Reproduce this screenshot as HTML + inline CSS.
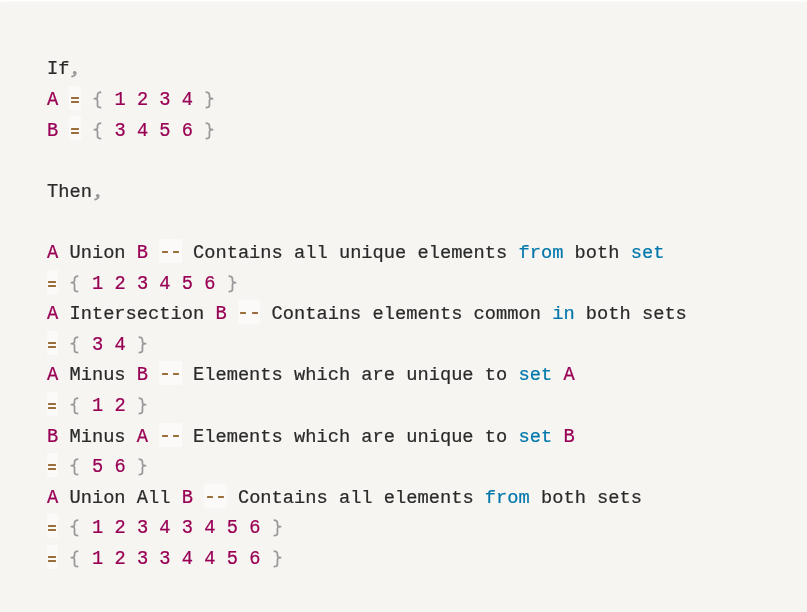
<!DOCTYPE html>
<html><head><meta charset="utf-8"><style>
html,body{margin:0;padding:0;}
body{width:807px;height:612px;background:#fff;overflow:hidden;position:relative;}
.blk{position:absolute;left:0;top:0;width:820px;height:620px;background:#f6f5f2;border-top-left-radius:3.0px;transform:translateY(1.5px);}
.ob{position:absolute;background:rgba(255,255,255,.5);}
.cm{position:absolute;}
.bar{position:absolute;background:#9a6e3a;border-radius:0.6px;}
.ln{position:absolute;left:46.9px;height:30px;line-height:30px;font-family:"Liberation Mono",monospace;font-size:18.72px;color:#2a2a2a;white-space:pre;will-change:transform;-webkit-text-stroke:0.22px;}
.u{display:inline-block;transform:scaleY(1.065);transform-origin:0 20px;}
.n{color:#905;}
.o{color:#9a6e3a;}
.oh{color:transparent;}
.p{color:#999;}
.k{color:#07a;}
</style></head><body>
<div class="blk"></div>
<svg class="cm" style="left:69.36px;top:68px" width="12" height="12" viewBox="0 -6 12 12"><circle cx="5.6" cy="-1.3" r="1.75" fill="#999"/><path d="M6.5,-1.2 C6.9,0.8 5.4,2.0 3.1,2.5" fill="none" stroke="#999" stroke-width="1.9" stroke-linecap="round"/></svg>
<div class="ob" style="left:69px;top:86px;width:12px;height:24px"></div>
<div class="bar" style="left:71px;top:97px;width:8px;height:2px"></div>
<div class="bar" style="left:71px;top:101px;width:8px;height:2px"></div>
<svg class="cm" style="left:91.82px;top:89px" width="12" height="22" viewBox="0 -16 12 22"><path d="M9.3,-13 C6.7,-13 5.5,-12 5.5,-10 L5.5,-8.2 C5.5,-7 4.7,-6.3 2.35,-6.3 C4.7,-6.3 5.5,-5.6 5.5,-4.4 L5.5,0.5 C5.5,2 6.7,2.6 9.3,2.6" fill="none" stroke="#999" stroke-width="1.75" stroke-linejoin="round"/></svg>
<svg class="cm" style="left:204.12px;top:89px" width="12" height="22" viewBox="0 -16 12 22"><path transform="translate(10.95,0) scale(-1,1)" d="M9.3,-13 C6.7,-13 5.5,-12 5.5,-10 L5.5,-8.2 C5.5,-7 4.7,-6.3 2.35,-6.3 C4.7,-6.3 5.5,-5.6 5.5,-4.4 L5.5,0.5 C5.5,2 6.7,2.6 9.3,2.6" fill="none" stroke="#999" stroke-width="1.75" stroke-linejoin="round"/></svg>
<div class="ob" style="left:69px;top:116px;width:12px;height:24px"></div>
<div class="bar" style="left:71px;top:128px;width:8px;height:2px"></div>
<div class="bar" style="left:71px;top:132px;width:8px;height:2px"></div>
<svg class="cm" style="left:91.82px;top:120px" width="12" height="22" viewBox="0 -16 12 22"><path d="M9.3,-13 C6.7,-13 5.5,-12 5.5,-10 L5.5,-8.2 C5.5,-7 4.7,-6.3 2.35,-6.3 C4.7,-6.3 5.5,-5.6 5.5,-4.4 L5.5,0.5 C5.5,2 6.7,2.6 9.3,2.6" fill="none" stroke="#999" stroke-width="1.75" stroke-linejoin="round"/></svg>
<svg class="cm" style="left:204.12px;top:120px" width="12" height="22" viewBox="0 -16 12 22"><path transform="translate(10.95,0) scale(-1,1)" d="M9.3,-13 C6.7,-13 5.5,-12 5.5,-10 L5.5,-8.2 C5.5,-7 4.7,-6.3 2.35,-6.3 C4.7,-6.3 5.5,-5.6 5.5,-4.4 L5.5,0.5 C5.5,2 6.7,2.6 9.3,2.6" fill="none" stroke="#999" stroke-width="1.75" stroke-linejoin="round"/></svg>
<svg class="cm" style="left:91.82px;top:191px" width="12" height="12" viewBox="0 -6 12 12"><circle cx="5.6" cy="-1.3" r="1.75" fill="#999"/><path d="M6.5,-1.2 C6.9,0.8 5.4,2.0 3.1,2.5" fill="none" stroke="#999" stroke-width="1.9" stroke-linecap="round"/></svg>
<div class="ob" style="left:159px;top:239px;width:23px;height:24px"></div>
<div class="bar" style="left:162px;top:251px;width:6px;height:2px"></div>
<div class="bar" style="left:173px;top:251px;width:6px;height:2px"></div>
<div class="ob" style="left:47px;top:270px;width:11px;height:24px"></div>
<div class="bar" style="left:48px;top:281px;width:8px;height:2px"></div>
<div class="bar" style="left:48px;top:285px;width:8px;height:2px"></div>
<svg class="cm" style="left:69.36px;top:273px" width="12" height="22" viewBox="0 -16 12 22"><path d="M9.3,-13 C6.7,-13 5.5,-12 5.5,-10 L5.5,-8.2 C5.5,-7 4.7,-6.3 2.35,-6.3 C4.7,-6.3 5.5,-5.6 5.5,-4.4 L5.5,0.5 C5.5,2 6.7,2.6 9.3,2.6" fill="none" stroke="#999" stroke-width="1.75" stroke-linejoin="round"/></svg>
<svg class="cm" style="left:226.58px;top:273px" width="12" height="22" viewBox="0 -16 12 22"><path transform="translate(10.95,0) scale(-1,1)" d="M9.3,-13 C6.7,-13 5.5,-12 5.5,-10 L5.5,-8.2 C5.5,-7 4.7,-6.3 2.35,-6.3 C4.7,-6.3 5.5,-5.6 5.5,-4.4 L5.5,0.5 C5.5,2 6.7,2.6 9.3,2.6" fill="none" stroke="#999" stroke-width="1.75" stroke-linejoin="round"/></svg>
<div class="ob" style="left:238px;top:300px;width:22px;height:24px"></div>
<div class="bar" style="left:240px;top:312px;width:6px;height:2px"></div>
<div class="bar" style="left:252px;top:312px;width:6px;height:2px"></div>
<div class="ob" style="left:47px;top:331px;width:11px;height:24px"></div>
<div class="bar" style="left:48px;top:342px;width:8px;height:2px"></div>
<div class="bar" style="left:48px;top:346px;width:8px;height:2px"></div>
<svg class="cm" style="left:69.36px;top:334px" width="12" height="22" viewBox="0 -16 12 22"><path d="M9.3,-13 C6.7,-13 5.5,-12 5.5,-10 L5.5,-8.2 C5.5,-7 4.7,-6.3 2.35,-6.3 C4.7,-6.3 5.5,-5.6 5.5,-4.4 L5.5,0.5 C5.5,2 6.7,2.6 9.3,2.6" fill="none" stroke="#999" stroke-width="1.75" stroke-linejoin="round"/></svg>
<svg class="cm" style="left:136.74px;top:334px" width="12" height="22" viewBox="0 -16 12 22"><path transform="translate(10.95,0) scale(-1,1)" d="M9.3,-13 C6.7,-13 5.5,-12 5.5,-10 L5.5,-8.2 C5.5,-7 4.7,-6.3 2.35,-6.3 C4.7,-6.3 5.5,-5.6 5.5,-4.4 L5.5,0.5 C5.5,2 6.7,2.6 9.3,2.6" fill="none" stroke="#999" stroke-width="1.75" stroke-linejoin="round"/></svg>
<div class="ob" style="left:159px;top:361px;width:23px;height:24px"></div>
<div class="bar" style="left:162px;top:373px;width:6px;height:2px"></div>
<div class="bar" style="left:173px;top:373px;width:6px;height:2px"></div>
<div class="ob" style="left:47px;top:392px;width:11px;height:24px"></div>
<div class="bar" style="left:48px;top:403px;width:8px;height:2px"></div>
<div class="bar" style="left:48px;top:407px;width:8px;height:2px"></div>
<svg class="cm" style="left:69.36px;top:395px" width="12" height="22" viewBox="0 -16 12 22"><path d="M9.3,-13 C6.7,-13 5.5,-12 5.5,-10 L5.5,-8.2 C5.5,-7 4.7,-6.3 2.35,-6.3 C4.7,-6.3 5.5,-5.6 5.5,-4.4 L5.5,0.5 C5.5,2 6.7,2.6 9.3,2.6" fill="none" stroke="#999" stroke-width="1.75" stroke-linejoin="round"/></svg>
<svg class="cm" style="left:136.74px;top:395px" width="12" height="22" viewBox="0 -16 12 22"><path transform="translate(10.95,0) scale(-1,1)" d="M9.3,-13 C6.7,-13 5.5,-12 5.5,-10 L5.5,-8.2 C5.5,-7 4.7,-6.3 2.35,-6.3 C4.7,-6.3 5.5,-5.6 5.5,-4.4 L5.5,0.5 C5.5,2 6.7,2.6 9.3,2.6" fill="none" stroke="#999" stroke-width="1.75" stroke-linejoin="round"/></svg>
<div class="ob" style="left:159px;top:423px;width:23px;height:24px"></div>
<div class="bar" style="left:162px;top:435px;width:6px;height:2px"></div>
<div class="bar" style="left:173px;top:435px;width:6px;height:2px"></div>
<div class="ob" style="left:47px;top:453px;width:11px;height:24px"></div>
<div class="bar" style="left:48px;top:464px;width:8px;height:2px"></div>
<div class="bar" style="left:48px;top:468px;width:8px;height:2px"></div>
<svg class="cm" style="left:69.36px;top:456px" width="12" height="22" viewBox="0 -16 12 22"><path d="M9.3,-13 C6.7,-13 5.5,-12 5.5,-10 L5.5,-8.2 C5.5,-7 4.7,-6.3 2.35,-6.3 C4.7,-6.3 5.5,-5.6 5.5,-4.4 L5.5,0.5 C5.5,2 6.7,2.6 9.3,2.6" fill="none" stroke="#999" stroke-width="1.75" stroke-linejoin="round"/></svg>
<svg class="cm" style="left:136.74px;top:456px" width="12" height="22" viewBox="0 -16 12 22"><path transform="translate(10.95,0) scale(-1,1)" d="M9.3,-13 C6.7,-13 5.5,-12 5.5,-10 L5.5,-8.2 C5.5,-7 4.7,-6.3 2.35,-6.3 C4.7,-6.3 5.5,-5.6 5.5,-4.4 L5.5,0.5 C5.5,2 6.7,2.6 9.3,2.6" fill="none" stroke="#999" stroke-width="1.75" stroke-linejoin="round"/></svg>
<div class="ob" style="left:204px;top:484px;width:23px;height:24px"></div>
<div class="bar" style="left:207px;top:496px;width:6px;height:2px"></div>
<div class="bar" style="left:218px;top:496px;width:6px;height:2px"></div>
<div class="ob" style="left:47px;top:514px;width:11px;height:24px"></div>
<div class="bar" style="left:48px;top:525px;width:8px;height:2px"></div>
<div class="bar" style="left:48px;top:529px;width:8px;height:2px"></div>
<svg class="cm" style="left:69.36px;top:517px" width="12" height="22" viewBox="0 -16 12 22"><path d="M9.3,-13 C6.7,-13 5.5,-12 5.5,-10 L5.5,-8.2 C5.5,-7 4.7,-6.3 2.35,-6.3 C4.7,-6.3 5.5,-5.6 5.5,-4.4 L5.5,0.5 C5.5,2 6.7,2.6 9.3,2.6" fill="none" stroke="#999" stroke-width="1.75" stroke-linejoin="round"/></svg>
<svg class="cm" style="left:271.50px;top:517px" width="12" height="22" viewBox="0 -16 12 22"><path transform="translate(10.95,0) scale(-1,1)" d="M9.3,-13 C6.7,-13 5.5,-12 5.5,-10 L5.5,-8.2 C5.5,-7 4.7,-6.3 2.35,-6.3 C4.7,-6.3 5.5,-5.6 5.5,-4.4 L5.5,0.5 C5.5,2 6.7,2.6 9.3,2.6" fill="none" stroke="#999" stroke-width="1.75" stroke-linejoin="round"/></svg>
<div class="ob" style="left:47px;top:545px;width:11px;height:24px"></div>
<div class="bar" style="left:48px;top:556px;width:8px;height:2px"></div>
<div class="bar" style="left:48px;top:560px;width:8px;height:2px"></div>
<svg class="cm" style="left:69.36px;top:548px" width="12" height="22" viewBox="0 -16 12 22"><path d="M9.3,-13 C6.7,-13 5.5,-12 5.5,-10 L5.5,-8.2 C5.5,-7 4.7,-6.3 2.35,-6.3 C4.7,-6.3 5.5,-5.6 5.5,-4.4 L5.5,0.5 C5.5,2 6.7,2.6 9.3,2.6" fill="none" stroke="#999" stroke-width="1.75" stroke-linejoin="round"/></svg>
<svg class="cm" style="left:271.50px;top:548px" width="12" height="22" viewBox="0 -16 12 22"><path transform="translate(10.95,0) scale(-1,1)" d="M9.3,-13 C6.7,-13 5.5,-12 5.5,-10 L5.5,-8.2 C5.5,-7 4.7,-6.3 2.35,-6.3 C4.7,-6.3 5.5,-5.6 5.5,-4.4 L5.5,0.5 C5.5,2 6.7,2.6 9.3,2.6" fill="none" stroke="#999" stroke-width="1.75" stroke-linejoin="round"/></svg>
<div class="ln" style="top:54px"><span class="u">I</span>f<span class="oh">,</span></div>
<div class="ln" style="top:85px"><span class="n"><span class="u">A</span></span> <span class="oh">=</span> <span class="oh">{</span> <span class="n"><span class="u">1</span></span> <span class="n"><span class="u">2</span></span> <span class="n"><span class="u">3</span></span> <span class="n"><span class="u">4</span></span> <span class="oh">}</span></div>
<div class="ln" style="top:116px"><span class="n"><span class="u">B</span></span> <span class="oh">=</span> <span class="oh">{</span> <span class="n"><span class="u">3</span></span> <span class="n"><span class="u">4</span></span> <span class="n"><span class="u">5</span></span> <span class="n"><span class="u">6</span></span> <span class="oh">}</span></div>
<div class="ln" style="top:177px"><span class="u">T</span>hen<span class="oh">,</span></div>
<div class="ln" style="top:238px"><span class="n"><span class="u">A</span></span> <span class="u">U</span>nion <span class="n"><span class="u">B</span></span> <span class="oh">--</span> <span class="u">C</span>ontains all unique elements <span class="k">from</span> both <span class="k">set</span></div>
<div class="ln" style="top:269px"><span class="oh">=</span> <span class="oh">{</span> <span class="n"><span class="u">1</span></span> <span class="n"><span class="u">2</span></span> <span class="n"><span class="u">3</span></span> <span class="n"><span class="u">4</span></span> <span class="n"><span class="u">5</span></span> <span class="n"><span class="u">6</span></span> <span class="oh">}</span></div>
<div class="ln" style="top:299px"><span class="n"><span class="u">A</span></span> <span class="u">I</span>ntersection <span class="n"><span class="u">B</span></span> <span class="oh">--</span> <span class="u">C</span>ontains elements common <span class="k">in</span> both sets</div>
<div class="ln" style="top:330px"><span class="oh">=</span> <span class="oh">{</span> <span class="n"><span class="u">3</span></span> <span class="n"><span class="u">4</span></span> <span class="oh">}</span></div>
<div class="ln" style="top:360px"><span class="n"><span class="u">A</span></span> <span class="u">M</span>inus <span class="n"><span class="u">B</span></span> <span class="oh">--</span> <span class="u">E</span>lements which are unique to <span class="k">set</span> <span class="n"><span class="u">A</span></span></div>
<div class="ln" style="top:391px"><span class="oh">=</span> <span class="oh">{</span> <span class="n"><span class="u">1</span></span> <span class="n"><span class="u">2</span></span> <span class="oh">}</span></div>
<div class="ln" style="top:422px"><span class="n"><span class="u">B</span></span> <span class="u">M</span>inus <span class="n"><span class="u">A</span></span> <span class="oh">--</span> <span class="u">E</span>lements which are unique to <span class="k">set</span> <span class="n"><span class="u">B</span></span></div>
<div class="ln" style="top:452px"><span class="oh">=</span> <span class="oh">{</span> <span class="n"><span class="u">5</span></span> <span class="n"><span class="u">6</span></span> <span class="oh">}</span></div>
<div class="ln" style="top:483px"><span class="n"><span class="u">A</span></span> <span class="u">U</span>nion <span class="u">A</span>ll <span class="n"><span class="u">B</span></span> <span class="oh">--</span> <span class="u">C</span>ontains all elements <span class="k">from</span> both sets</div>
<div class="ln" style="top:513px"><span class="oh">=</span> <span class="oh">{</span> <span class="n"><span class="u">1</span></span> <span class="n"><span class="u">2</span></span> <span class="n"><span class="u">3</span></span> <span class="n"><span class="u">4</span></span> <span class="n"><span class="u">3</span></span> <span class="n"><span class="u">4</span></span> <span class="n"><span class="u">5</span></span> <span class="n"><span class="u">6</span></span> <span class="oh">}</span></div>
<div class="ln" style="top:544px"><span class="oh">=</span> <span class="oh">{</span> <span class="n"><span class="u">1</span></span> <span class="n"><span class="u">2</span></span> <span class="n"><span class="u">3</span></span> <span class="n"><span class="u">3</span></span> <span class="n"><span class="u">4</span></span> <span class="n"><span class="u">4</span></span> <span class="n"><span class="u">5</span></span> <span class="n"><span class="u">6</span></span> <span class="oh">}</span></div>
</body></html>
